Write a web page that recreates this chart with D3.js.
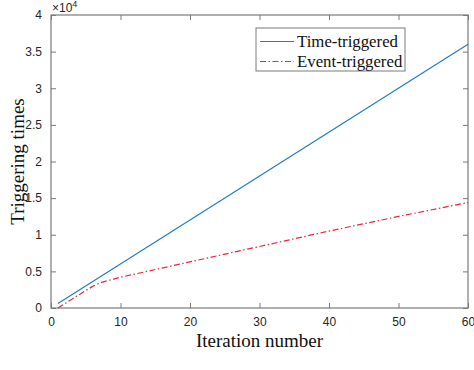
<!DOCTYPE html>
<html lang="en">
<head>
    <meta charset="UTF-8">
    <title>Triggering times</title>
    <style>
        body { margin: 0; background: #fff; }
        svg { display: block; }
        .tick text { font-family: "Liberation Sans", Arial, sans-serif; font-size: 12px; fill: #262626; }
        .lbl { font-family: "Liberation Serif", "Times New Roman", serif; font-size: 19px; fill: #111; }
        .leg { font-family: "Liberation Serif", "Times New Roman", serif; font-size: 16.8px; fill: #111; }
    </style>
</head>
<body>
<div id="chart"></div>
<script src="https://d3js.org/d3.v7.min.js"></script>
<script>
    // data (y in units of 1e4)
    const timeIter = [1, 60];
    const timeVals = [0.06, 3.6];
    const eventIter = [1, 2, 3, 4, 5, 6, 7, 8, 9, 10, 20, 30, 40, 50, 60];
    const eventVals = [0, 0.06, 0.12, 0.18, 0.24, 0.295, 0.34, 0.37, 0.395, 0.42, 0.63, 0.84, 1.05, 1.25, 1.44];
    const xTicks = [0, 10, 20, 30, 40, 50, 60];
    const yTicks = [0, 0.5, 1, 1.5, 2, 2.5, 3, 3.5, 4];
    const seriesNames = ["Time-triggered", "Event-triggered"];

    const width = 474, height = 370;
    const margin = {left: 51, right: 6, top: 15, bottom: 62};
    const x0 = margin.left, x1 = width - margin.right;
    const y0 = height - margin.bottom, y1 = margin.top;

    const svg = d3.select("#chart").append("svg")
        .attr("width", width).attr("height", height);

    const xScale = d3.scaleLinear().domain([0, 60]).range([x0, x1]);
    const yScale = d3.scaleLinear().domain([0, 4]).range([y0, y1]);

    const axisColor = "#7a7a7a";
    const tickLen = 5;

    // bottom + top axes
    svg.append("g").attr("transform", "translate(0," + y0 + ")")
        .call(d3.axisBottom(xScale).tickValues(xTicks).tickSize(-tickLen).tickPadding(9).tickFormat(d3.format("d")))
        .call(g => g.select(".domain").remove());
    svg.append("g").attr("transform", "translate(0," + y1 + ")")
        .call(d3.axisTop(xScale).tickValues(xTicks).tickSize(-tickLen).tickFormat(""))
        .call(g => g.select(".domain").remove());
    // left + right axes
    svg.append("g").attr("transform", "translate(" + x0 + ",0)")
        .call(d3.axisLeft(yScale).tickValues(yTicks).tickSize(-tickLen).tickPadding(9).tickFormat(d3.format("")))
        .call(g => g.select(".domain").remove());
    svg.append("g").attr("transform", "translate(" + x1 + ",0)")
        .call(d3.axisRight(yScale).tickValues(yTicks).tickSize(-tickLen).tickFormat(""))
        .call(g => g.select(".domain").remove());
    svg.selectAll(".tick line").attr("stroke", axisColor);

    // box
    svg.append("rect")
        .attr("x", x0).attr("y", y1)
        .attr("width", x1 - x0).attr("height", y0 - y1)
        .attr("fill", "none").attr("stroke", axisColor).attr("stroke-width", 1.2);

    // exponent label
    const ex = svg.append("text")
        .attr("x", x0 + 1).attr("y", y1 - 3)
        .attr("font-family", "Liberation Sans, Arial, sans-serif")
        .attr("font-size", 12).attr("fill", "#262626");
    ex.append("tspan").text("\u00d710");
    ex.append("tspan").attr("font-size", 9).attr("dy", -5).text("4");

    const line = d3.line().x(d => xScale(d[0])).y(d => yScale(d[1]));

    svg.append("path")
        .datum(timeIter.map((t, i) => [t, timeVals[i]]))
        .attr("d", line)
        .attr("fill", "none").attr("stroke", "#1f7dc0").attr("stroke-width", 1.2);

    svg.append("path")
        .datum(eventIter.map((t, i) => [t, eventVals[i]]))
        .attr("d", line)
        .attr("fill", "none").attr("stroke", "#e8283c").attr("stroke-width", 1.2)
        .attr("stroke-dasharray", "6,2.5,1.5,2.5");

    // axis titles
    svg.append("text").attr("class", "lbl")
        .attr("x", (x0 + x1) / 2).attr("y", 347)
        .attr("text-anchor", "middle").text("Iteration number");
    svg.append("text").attr("class", "lbl")
        .attr("transform", "translate(24," + ((y0 + y1) / 2) + ") rotate(-90)")
        .attr("text-anchor", "middle").text("Triggering times");

    // legend
    const leg = svg.append("g");
    leg.append("rect")
        .attr("x", 256).attr("y", 28).attr("width", 149).attr("height", 43)
        .attr("fill", "#fff").attr("stroke", axisColor).attr("stroke-width", 1);
    const legColors = ["#1f7dc0", "#e8283c"];
    const legDash = [null, "6,2.5,1.5,2.5"];
    seriesNames.forEach((name, i) => {
        const cy = 41.5 + i * 20;
        leg.append("line")
            .attr("x1", 260).attr("x2", 294).attr("y1", cy).attr("y2", cy)
            .attr("stroke", legColors[i]).attr("stroke-width", 1.2)
            .attr("stroke-dasharray", legDash[i]);
        leg.append("text").attr("class", "leg")
            .attr("x", 297).attr("y", cy + 5.5).text(name);
    });
</script>
</body>
</html>
